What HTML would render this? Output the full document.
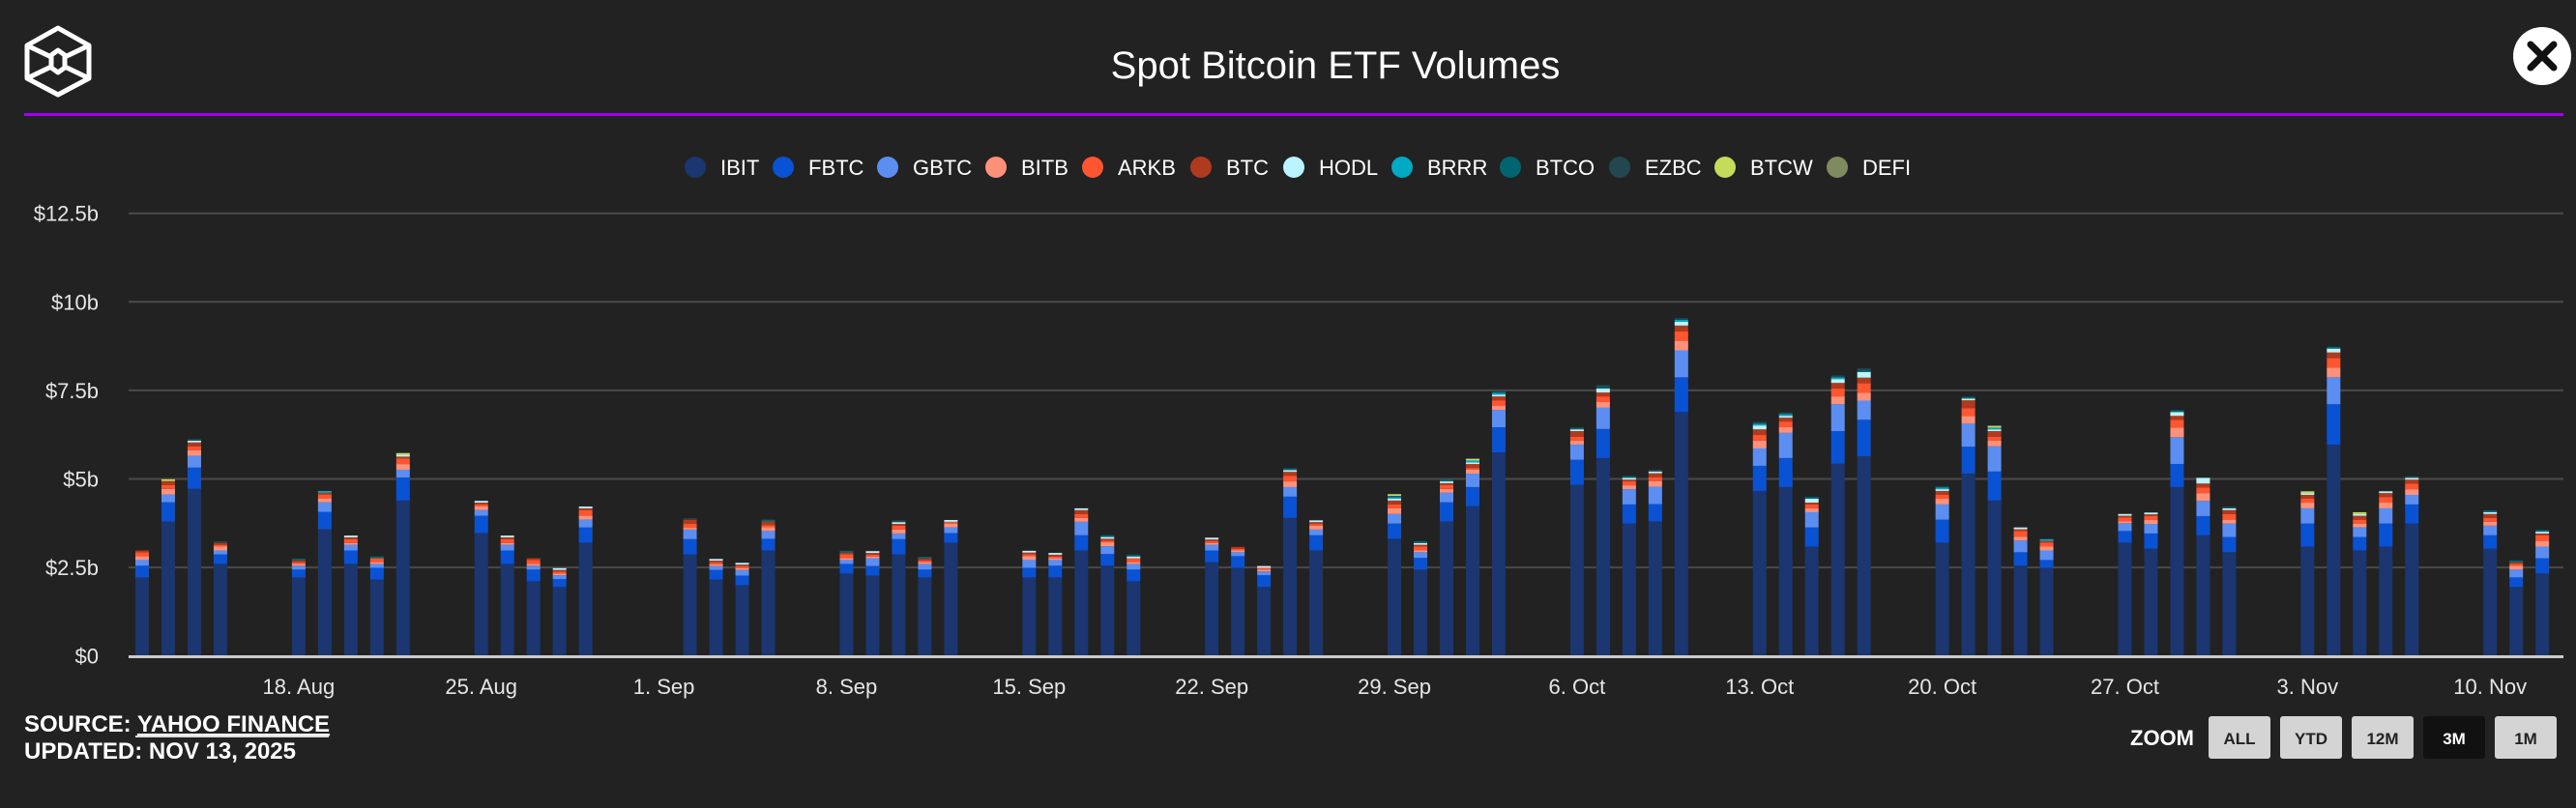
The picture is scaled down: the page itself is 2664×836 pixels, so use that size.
<!DOCTYPE html>
<html><head><meta charset="utf-8"><style>
html,body{margin:0;padding:0;background:#222222;}
svg{display:block;}
text{font-family:"Liberation Sans",Arial,sans-serif;}
</style></head><body>
<svg id="chart" width="2664" height="836" viewBox="0 0 2664 836" xmlns="http://www.w3.org/2000/svg">
<rect x="0" y="0" width="2664" height="836" fill="#222222"/>
<g fill="none" stroke="#ffffff" stroke-width="5" stroke-linejoin="round">
  <polygon points="60,29 92,47 92,81 60,98 28,81 28,47"/>
  <polyline points="28,47 53,59"/><polyline points="92,47 67,59"/>
  <polygon points="60,52 67,57 67,70 60,75 53,70 53,57"/>
  <polyline points="28,81 53,69"/><polyline points="92,81 67,69"/>
</g>
<text x="1381" y="81" font-size="40" fill="#ffffff" text-anchor="middle">Spot Bitcoin ETF Volumes</text>
<g>
  <circle cx="2629" cy="58" r="30" fill="#ffffff"/>
  <path d="M2617 46 L2641 70 M2641 46 L2617 70" stroke="#111" stroke-width="7" stroke-linecap="round"/>
</g>
<rect x="25" y="117" width="2626" height="3" fill="#a100f2"/>
<g id="legend"></g>
<g id="grid"></g>
<g id="yaxis"></g>
<g id="bars"></g>
<line x1="133" y1="679.5" x2="2651" y2="679.5" stroke="#cccccc" stroke-width="3"/>
<g id="xaxis"></g>
<text x="25" y="757" font-size="24" font-weight="bold" fill="#ffffff">SOURCE: <tspan text-decoration="underline">YAHOO FINANCE</tspan></text>
<line x1="140" y1="762" x2="340" y2="762" stroke="#ddd" stroke-width="2"/>
<text x="25" y="785" font-size="24" font-weight="bold" fill="#ffffff">UPDATED: NOV 13, 2025</text>
<g>
  <text x="2203" y="771" font-size="22" font-weight="bold" fill="#ffffff">ZOOM</text>
  <g><rect x="2284" y="741" width="64" height="44" rx="3" fill="#d4d4d4"/><text x="2316" y="770" font-size="17" font-weight="bold" text-anchor="middle" fill="#222">ALL</text></g>
  <g><rect x="2358" y="741" width="64" height="44" rx="3" fill="#d4d4d4"/><text x="2390" y="770" font-size="17" font-weight="bold" text-anchor="middle" fill="#222">YTD</text></g>
  <g><rect x="2432" y="741" width="64" height="44" rx="3" fill="#d4d4d4"/><text x="2464" y="770" font-size="17" font-weight="bold" text-anchor="middle" fill="#222">12M</text></g>
  <g><rect x="2506" y="741" width="64" height="44" rx="3" fill="#111111"/><text x="2538" y="770" font-size="17" font-weight="bold" text-anchor="middle" fill="#fff">3M</text></g>
  <g><rect x="2580" y="741" width="64" height="44" rx="3" fill="#d4d4d4"/><text x="2612" y="770" font-size="17" font-weight="bold" text-anchor="middle" fill="#222">1M</text></g>
</g>
</svg>
<script>
const dates = ["2025-08-12","2025-08-13","2025-08-14","2025-08-15","2025-08-18","2025-08-19","2025-08-20","2025-08-21","2025-08-22","2025-08-25","2025-08-26","2025-08-27","2025-08-28","2025-08-29","2025-09-02","2025-09-03","2025-09-04","2025-09-05","2025-09-08","2025-09-09","2025-09-10","2025-09-11","2025-09-12","2025-09-15","2025-09-16","2025-09-17","2025-09-18","2025-09-19","2025-09-22","2025-09-23","2025-09-24","2025-09-25","2025-09-26","2025-09-29","2025-09-30","2025-10-01","2025-10-02","2025-10-03","2025-10-06","2025-10-07","2025-10-08","2025-10-09","2025-10-10","2025-10-13","2025-10-14","2025-10-15","2025-10-16","2025-10-17","2025-10-20","2025-10-21","2025-10-22","2025-10-23","2025-10-24","2025-10-27","2025-10-28","2025-10-29","2025-10-30","2025-10-31","2025-11-03","2025-11-04","2025-11-05","2025-11-06","2025-11-07","2025-11-10","2025-11-11","2025-11-12"];
const seriesNames = ["IBIT","FBTC","GBTC","BITB","ARKB","BTC","HODL","BRRR","BTCO","EZBC","BTCW","DEFI"];
const seriesColors = ["#1b3670","#0a52d4","#5b8ef0","#ff917a","#ff5530","#b03a1e","#b9f4ff","#00a9c4","#006570","#23474e","#c4dc5a","#7f8a5e"];
const IBIT = [2.22,3.80,4.72,2.60,2.22,3.58,2.60,2.16,4.39,3.47,2.60,2.11,1.95,3.20,2.87,2.16,2.00,2.98,2.33,2.27,2.87,2.22,3.20,2.22,2.22,2.98,2.55,2.11,2.65,2.49,1.95,3.90,2.98,3.31,2.44,3.80,4.23,5.75,4.83,5.59,3.74,3.80,6.89,4.66,4.77,3.09,5.43,5.64,3.20,5.15,4.39,2.55,2.49,3.20,3.03,4.77,3.41,2.93,3.09,5.97,2.98,3.09,3.74,3.03,1.95,2.33];
const FBTC = [.33,.54,.60,.27,.22,.49,.38,.33,.65,.49,.38,.33,.22,.43,.43,.27,.27,.33,.27,.27,.43,.22,.27,.27,.33,.43,.33,.33,.33,.33,.33,.60,.43,.43,.33,.54,.54,.71,.71,.82,.54,.49,.98,.71,.82,.54,.92,1.03,.65,.76,.82,.38,.22,.33,.43,.65,.54,.43,.65,1.14,.38,.65,.54,.38,.27,.43];
const GBTC = [.16,.22,.33,.11,.11,.27,.16,.11,.22,.16,.16,.11,.11,.22,.27,.11,.16,.22,.11,.22,.16,.16,.16,.22,.16,.38,.22,.16,.16,.11,.11,.27,.16,.27,.16,.27,.38,.49,.43,.60,.43,.49,.76,.49,.71,.43,.76,.54,.43,.65,.71,.33,.27,.22,.27,.76,.43,.38,.43,.76,.27,.43,.27,.27,.22,.33];
const BITB = [.11,.16,.16,.11,.05,.11,.05,.05,.16,.11,.05,.05,.05,.11,.05,.05,.05,.11,.05,.05,.11,.05,.11,.11,.05,.11,.11,.05,.05,.05,.05,.16,.11,.16,.05,.11,.11,.11,.11,.16,.11,.16,.27,.22,.16,.11,.22,.22,.16,.22,.16,.11,.11,.05,.11,.27,.22,.11,.16,.27,.11,.16,.16,.11,.11,.16];
const ARKB = [.11,.11,.11,.05,.05,.11,.11,.11,.16,.05,.11,.11,.05,.16,.11,.05,.05,.05,.11,.05,.11,.05,.05,.05,.05,.11,.05,.11,.05,.05,.05,.16,.05,.11,.11,.11,.05,.16,.11,.16,.11,.11,.27,.16,.16,.11,.22,.27,.11,.22,.11,.16,.11,.11,.11,.22,.16,.16,.11,.27,.11,.16,.16,.11,.05,.16];
const BTC = [.05,.11,.11,.05,.05,.05,.05,0,.05,.05,.05,.05,.05,.05,.11,.05,.05,.11,.05,.05,.05,.05,0,.05,.05,.11,.05,0,.05,.05,0,.11,.05,.11,.05,.05,.11,.11,.16,.11,.05,.11,.16,.16,.11,.05,.16,.16,.11,.22,.16,.05,.05,.05,.05,.11,.11,.11,.11,.16,.11,.11,.11,.11,.05,.05];
const HODL = [0,0,.05,0,0,0,.05,0,.05,.05,.05,0,.05,.05,0,.05,.05,0,0,.05,.05,0,.05,.05,.05,.05,.05,.05,.05,0,.05,.05,.05,.05,.05,.05,.05,.05,.05,.11,.05,.05,.11,.11,.05,.11,.11,.16,.05,.05,.05,.05,0,.05,.05,.11,.16,.05,.05,.11,.05,.05,.05,.05,0,.05];
const BRRR = [0,0,0,0,0,.05,0,0,0,0, 0,0,0,0,0,0,0,0,0,0, 0,0,0,0,0,0,0,0,0,0, 0,0,0,.05,0,0,.05,.05,0,0, 0,0,.05,.05,.05,0,.05,0,.05,0, .05,0,.05,0,0,0,0,0,0,0, 0,0,0,0,0,0];
const BTCO = [0,0,0,0,.05,0,0,.05,0,0, 0,0,0,0,0,0,0,.05,.05,0, 0,.05,0,0,0,0,.05,.05,0,0, 0,.05,0,0,.05,.05,0,0,.05,.05, .05,0,0,0,0,.05,0,.05,0,.05, 0,0,0,0,0,.05,0,0,0,.05, 0,0,0,.05,.05,.05];
const EZBC = [0,0,.05,.05,0,0,0,0,0,0, 0,0,0,0,.05,0,0,0,0,0, .05,0,0,0,0,0,0,0,0,0, 0,0,0,.03,0,0,0,.05,0,.05, 0,.05,.05,.05,.05,0,.05,.05,.03,0, 0,0,0,0,0,0,0,.05,0,0, 0,0,.05,0,0,0];
const BTCW = [0,.05,0,0,0,0,0,0,.05,0, 0,0,0,0,0,0,0,0,0,0, 0,0,0,0,0,0,0,0,0,0, 0,0,0,.05,0,0,.05,0,0,0, 0,0,0,0,0,0,0,0,0,0, .05,0,0,0,0,0,0,0,.05,0, .05,0,0,0,0,0];
const DEFI = [0,0,0,0,0,0,0,0,0,0, 0,0,0,0,0,0,0,0,0,0, 0,0,0,0,0,0,0,0,0,0, 0,0,0,0,0,0,0,0,0,0, 0,0,0,0,0,0,0,0,0,0, 0,0,0,0,0,0,0,0,0,0, 0,0,0,0,0,0];
const yTicks = [0,2.5,5,7.5,10,12.5];
const yTickLabels = ["$0","$2.5b","$5b","$7.5b","$10b","$12.5b"];
const xTickDates = ["2025-08-18","2025-08-25","2025-09-01","2025-09-08","2025-09-15","2025-09-22","2025-09-29","2025-10-06","2025-10-13","2025-10-20","2025-10-27","2025-11-03","2025-11-10"];
const xTickLabels = ["18. Aug","25. Aug","1. Sep","8. Sep","15. Sep","22. Sep","29. Sep","6. Oct","13. Oct","20. Oct","27. Oct","3. Nov","10. Nov"];

const NS = "http://www.w3.org/2000/svg";
const allSeries = [IBIT,FBTC,GBTC,BITB,ARKB,BTC,HODL,BRRR,BTCO,EZBC,BTCW,DEFI];
const originDay = Date.UTC(2025,7,12);
function dayNum(s){const p=s.split("-");return (Date.UTC(+p[0],+p[1]-1,+p[2])-originDay)/86400000;}
function xScale(s){return 147 + dayNum(s)*26.98;}
function yScale(v){return 678.7 - v*36.64;}
function mk(tag, attrs, parent){const e=document.createElementNS(NS,tag);for(const k in attrs)e.setAttribute(k,attrs[k]);parent.appendChild(e);return e;}

const grid=document.getElementById("grid"), yaxis=document.getElementById("yaxis");
yTicks.forEach((t,i)=>{
  if(t>0){
    const l=mk("line",{x1:133,x2:2651,y1:yScale(t),y2:yScale(t),stroke:"#4a4a4a","stroke-width":2},grid);
    
    
  }
  const tx=mk("text",{x:102,y:yScale(t)+8,"font-size":22,fill:"#e6e6e6","text-anchor":"end"},yaxis);
  tx.textContent=yTickLabels[i];
  
  
});

const xaxis=document.getElementById("xaxis");
xTickDates.forEach((d,i)=>{
  const tx=mk("text",{x:xScale(d),y:718,"font-size":22,fill:"#e6e6e6","text-anchor":"middle"},xaxis);
  tx.textContent=xTickLabels[i];
  
  
});

const bars=document.getElementById("bars");
dates.forEach((d,i)=>{
  const g=mk("g",{},bars);
  
  
  let acc=0;
  const cx=xScale(d);
  allSeries.forEach((s,k)=>{
    const v=s[i]; if(!v) return;
    const y0=yScale(acc), y1=yScale(acc+v);
    const r=mk("rect",{x:cx-7,y:y1,width:14,height:y0-y1,fill:seriesColors[k]},g);
    
    
    acc+=v;
  });
});

const legendX=[719,810,918,1030,1130,1242,1338,1450,1562,1675,1784,1900];
const legend=document.getElementById("legend");
seriesNames.forEach((n,k)=>{
  const g=mk("g",{},legend);
  
  
  mk("circle",{cx:legendX[k],cy:173,r:11,fill:seriesColors[k]},g);
  const t=mk("text",{x:legendX[k]+26,y:181,"font-size":22,fill:"#ffffff"},g);
  t.textContent=n;
});
</script>
</body></html>
